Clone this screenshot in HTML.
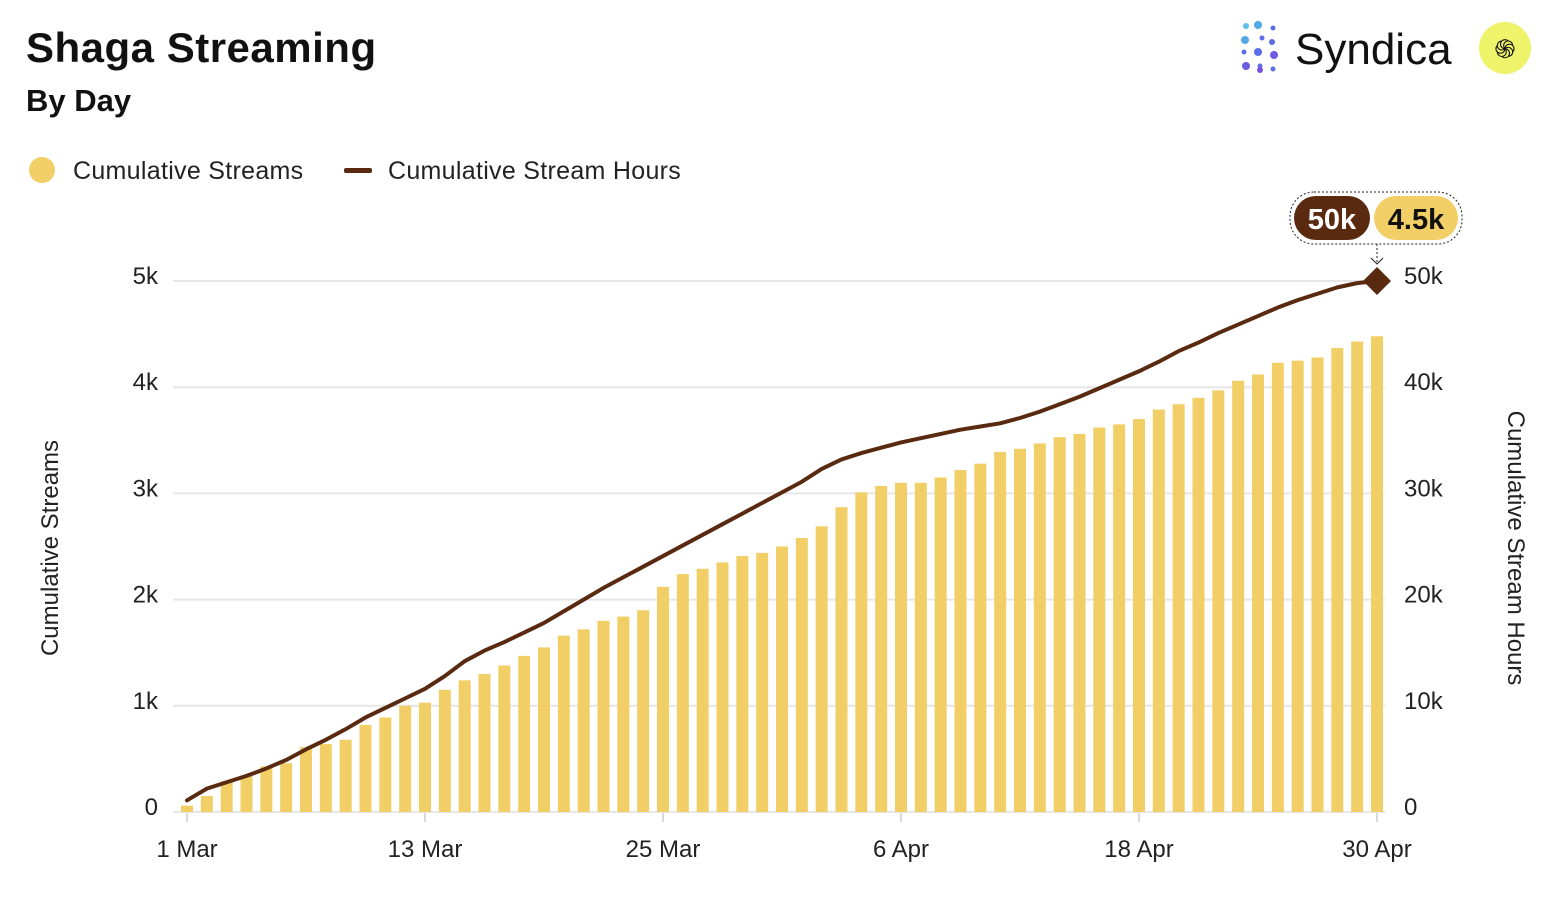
<!DOCTYPE html>
<html><head><meta charset="utf-8"><style>
body{margin:0;background:#fff;font-family:"Liberation Sans",sans-serif;}
svg text{font-family:"Liberation Sans",sans-serif;}
</style></head><body>
<svg id="c" width="1548" height="898" viewBox="0 0 1548 898">
<text x="26" y="62" font-size="42" font-weight="bold" fill="#111" letter-spacing="0.5">Shaga Streaming</text>
<text x="26" y="111" font-size="31" font-weight="bold" fill="#111">By Day</text>
<g>
<g fill="#5b6ee8">
<circle cx="1246" cy="26" r="3" fill="#5bc0e8"/><circle cx="1258" cy="25" r="4" fill="#4fa8e8"/><circle cx="1273" cy="28" r="2.5"/>
<circle cx="1245" cy="40" r="4" fill="#4fa8e8"/><circle cx="1262" cy="38" r="2.5"/><circle cx="1272" cy="42" r="3"/>
<circle cx="1244" cy="52" r="2.5"/><circle cx="1258" cy="52" r="4"/><circle cx="1274" cy="55" r="4" fill="#6a5be0"/>
<circle cx="1246" cy="66" r="4" fill="#6a5be0"/><circle cx="1260" cy="66" r="2.5"/><circle cx="1273" cy="69" r="2.5"/>
<circle cx="1260" cy="70" r="3" fill="#7a4fe0"/></g>
<text x="1295" y="64" font-size="44" fill="#111">Syndica</text>
<circle cx="1505" cy="48" r="26" fill="#eef36a"/>
<text x="1505" y="58" font-size="26" text-anchor="middle" fill="#111">֍</text>
</g>
<g>
<circle cx="42" cy="170" r="13" fill="#f2cf66"/>
<text x="73" y="179" font-size="25" fill="#222" letter-spacing="0.3">Cumulative Streams</text>
<rect x="344" y="168" width="28" height="5" rx="2" fill="#5a2a10"/>
<text x="388" y="179" font-size="25" fill="#222" letter-spacing="0.3">Cumulative Stream Hours</text>
</g>
<g id="grid"></g><g id="bars"></g><g id="line"></g><g id="axes"></g>
<text transform="translate(58,548) rotate(-90)" font-size="24" fill="#222" text-anchor="middle">Cumulative Streams</text>
<text transform="translate(1508,548) rotate(90)" font-size="24" fill="#222" text-anchor="middle">Cumulative Stream Hours</text>
<g>
<rect x="1290" y="192" width="172" height="52" rx="24" fill="none" stroke="#222" stroke-dasharray="2,2"/>
<rect x="1294" y="196" width="76" height="44" rx="22" fill="#5a2a10"/>
<text x="1332" y="229" font-size="29" font-weight="bold" fill="#fff" text-anchor="middle">50k</text>
<rect x="1374" y="196" width="84" height="44" rx="22" fill="#f2cf66"/>
<text x="1416" y="229" font-size="29" font-weight="bold" fill="#111" text-anchor="middle">4.5k</text>
<line x1="1377" y1="244" x2="1377" y2="264" stroke="#222" stroke-dasharray="2,2"/>
<path d="M1371 258 L1377 264 L1383 258" fill="none" stroke="#222"/>
</g>
</svg>
<script>
const streams=[60,150,290,340,430,460,610,640,680,820,890,1000,1030,1150,1240,1300,1380,1470,1550,1660,1720,1800,1840,1900,2120,2240,2290,2350,2410,2440,2500,2580,2690,2870,3010,3070,3100,3100,3150,3220,3280,3390,3420,3470,3530,3560,3620,3650,3700,3790,3840,3900,3970,4060,4120,4230,4250,4280,4370,4430,4480];
const hours=[1.1,2.2,2.8,3.4,4.1,4.9,5.9,6.8,7.8,8.9,9.8,10.7,11.6,12.8,14.2,15.2,16.0,16.9,17.8,18.9,20.0,21.1,22.1,23.1,24.1,25.1,26.1,27.1,28.1,29.1,30.1,31.1,32.3,33.2,33.8,34.3,34.8,35.2,35.6,36.0,36.3,36.6,37.1,37.7,38.4,39.1,39.9,40.7,41.5,42.4,43.4,44.2,45.1,45.9,46.7,47.5,48.2,48.8,49.4,49.8,50.0];
const leftTicks=[0,1000,2000,3000,4000,5000];
const leftLabels=["0","1k","2k","3k","4k","5k"];
const rightLabels=["0","10k","20k","30k","40k","50k"];
const xTickIdx=[0,12,24,36,48,60];
const xLabels=["1 Mar","13 Mar","25 Mar","6 Apr","18 Apr","30 Apr"];
const NS="http://www.w3.org/2000/svg";
const x=i=>187+i*(1377-187)/60;
const yL=v=>812-v*(812-281)/5000;
const yR=v=>812-v*(812-281)/50;
function mk(t,a,p){const e=document.createElementNS(NS,t);for(const k in a)e.setAttribute(k,a[k]);p.appendChild(e);return e;}
const G=document.getElementById('grid'),B=document.getElementById('bars'),L=document.getElementById('line'),A=document.getElementById('axes');
leftTicks.forEach((v,i)=>{
 const gl=mk('line',{x1:173,x2:1385,y1:yL(v),y2:yL(v),stroke:'#e6e6e6','stroke-width':2},G);
 
 
 const t=mk('text',{x:158,y:yL(v)+3,'font-size':24,fill:'#222','text-anchor':'end'},A);t.textContent=leftLabels[i];
 
 
 const r=mk('text',{x:1404,y:yL(v)+3,'font-size':24,fill:'#222'},A);r.textContent=rightLabels[i];
 
 
});
xTickIdx.forEach((d,i)=>{
 const tk=mk('line',{x1:x(d),x2:x(d),y1:813,y2:822,stroke:'#ccc','stroke-width':1.5},A);
 
 
 const t=mk('text',{x:x(d),y:857,'font-size':24,fill:'#222','text-anchor':'middle'},A);t.textContent=xLabels[i];
 
 
});
streams.forEach((v,i)=>{
 const b=mk('rect',{x:x(i)-6,y:yL(v),width:12,height:812-yL(v),fill:'#f2cf66'},B);
 
 
});
const p=mk('path',{d:hours.map((v,i)=>(i?'L':'M')+x(i)+' '+yR(v)).join(' '),fill:'none',stroke:'#5a2a10','stroke-width':4,'stroke-linejoin':'round','stroke-linecap':'round'},L);


const lx=x(hours.length-1),ly=yR(hours[hours.length-1]);
const dm=mk('path',{d:`M${lx} ${ly-14} L${lx+14} ${ly} L${lx} ${ly+14} L${lx-14} ${ly} Z`,fill:'#5a2a10'},L);


</script>
</body></html>
